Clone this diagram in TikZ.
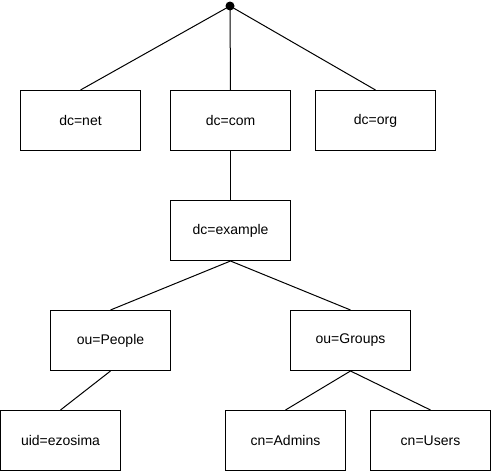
\documentclass[tikz,border=0pt]{standalone}
\usepackage{fontspec}
\setmainfont{Liberation Sans}
\begin{document}
\begin{tikzpicture}[x=1pt,y=-1pt,
  entry/.style={draw=black,line width=1pt,minimum width=120pt,minimum height=60pt,inner sep=0pt,font=\fontsize{14}{16}\selectfont,anchor=center},
  link/.style={draw=black,line width=1pt}]
\useasboundingbox (0,0) rectangle (491,471);
\fill[black] (230,6) circle (4.5pt);
\coordinate (root) at (230,6);
\node[entry] (net) at (80.5,120.5) {dc=net};
\node[entry] (com) at (230.5,120.5) {dc=com};
\node[entry] (org) at (375.5,120.5) {dc=org};
\node[entry] (ex) at (230.5,230.5) {dc=example};
\node[entry] (people) at (110.5,340.5) {ou=People};
\node[entry] (groups) at (350.5,340.5) {ou=Groups};
\node[entry] (uid) at (60.5,440.5) {uid=ezosima};
\node[entry] (admins) at (285.5,440.5) {cn=Admins};
\node[entry] (users) at (430.5,440.5) {cn=Users};
\draw[link] (root) -- (net.north);
\draw[link] (root) -- (com.north);
\draw[link] (root) -- (org.north);
\draw[link] (com.south) -- (ex.north);
\draw[link] (ex.south) -- (people.north);
\draw[link] (ex.south) -- (groups.north);
\draw[link] (people.south) -- (uid.north);
\draw[link] (groups.south) -- (admins.north);
\draw[link] (groups.south) -- (users.north);
\end{tikzpicture}
\end{document}
